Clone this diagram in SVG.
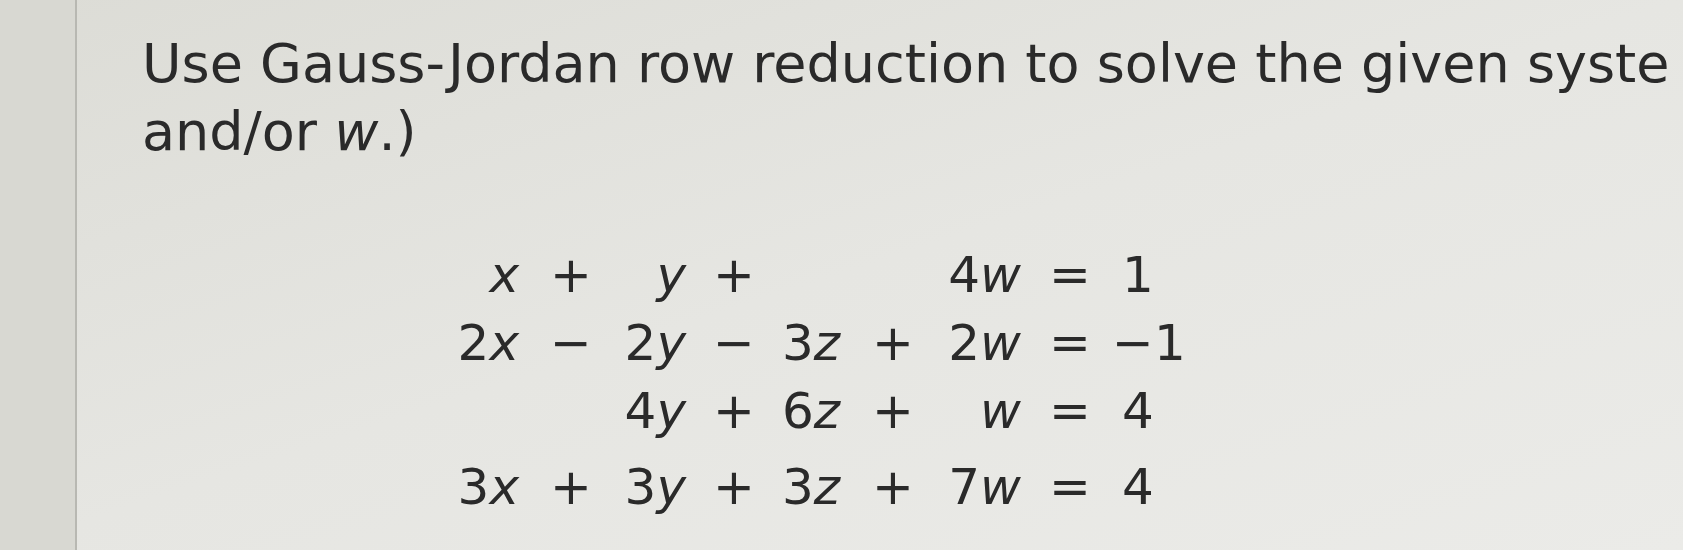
<svg xmlns="http://www.w3.org/2000/svg" width="1683" height="550" viewBox="0 0 1683 550">
<style>
text{font-family:"DejaVu Sans",Verdana,sans-serif;fill:#2a2a2a;font-size:50px}
.t{font-size:54px}
.v{font-style:italic}
.e{text-anchor:end}
.m{text-anchor:middle}
</style>
<defs><linearGradient id="bg" x1="0" y1="0" x2="1" y2="1"><stop offset="0" stop-color="#dcdcd6"/><stop offset="0.5" stop-color="#e6e6e2"/><stop offset="1" stop-color="#ebebe8"/></linearGradient></defs>
<rect width="1683" height="550" fill="url(#bg)"/>
<rect width="76" height="550" fill="#d8d8d2"/>
<line x1="76" y1="0" x2="76" y2="550" stroke="#b8b8b2" stroke-width="2"/>
<g id="title">
<text class="t" x="142" y="82">Use Gauss-Jordan row reduction to solve the given syste</text>
<text class="t" x="142" y="150">and/or <tspan class="v">w</tspan>.)</text>
</g>
<g id="equations">
<g id="r1"><text class="e v" x="519" y="292">x</text><text class="m" x="571" y="292">+</text><text class="e v" x="686" y="292">y</text><text class="m" x="734" y="292">+</text><text class="e" x="1021" y="292">4<tspan class="v">w</tspan></text><text class="m" x="1070" y="292">=</text><text x="1122" y="292">1</text></g>
<g id="r2"><text class="e" x="519" y="360">2<tspan class="v">x</tspan></text><text class="m" x="571" y="360">−</text><text class="e" x="686" y="360">2<tspan class="v">y</tspan></text><text class="m" x="734" y="360">−</text><text class="e" x="840" y="360">3<tspan class="v">z</tspan></text><text class="m" x="893" y="360">+</text><text class="e" x="1021" y="360">2<tspan class="v">w</tspan></text><text class="m" x="1070" y="360">=</text><text x="1112" y="360">−1</text></g>
<g id="r3"><text class="e" x="686" y="428">4<tspan class="v">y</tspan></text><text class="m" x="734" y="428">+</text><text class="e" x="840" y="428">6<tspan class="v">z</tspan></text><text class="m" x="893" y="428">+</text><text class="e v" x="1021" y="428">w</text><text class="m" x="1070" y="428">=</text><text x="1122" y="428">4</text></g>
<g id="r4"><text class="e" x="519" y="504">3<tspan class="v">x</tspan></text><text class="m" x="571" y="504">+</text><text class="e" x="686" y="504">3<tspan class="v">y</tspan></text><text class="m" x="734" y="504">+</text><text class="e" x="840" y="504">3<tspan class="v">z</tspan></text><text class="m" x="893" y="504">+</text><text class="e" x="1021" y="504">7<tspan class="v">w</tspan></text><text class="m" x="1070" y="504">=</text><text x="1122" y="504">4</text></g>
</g>
</svg>
